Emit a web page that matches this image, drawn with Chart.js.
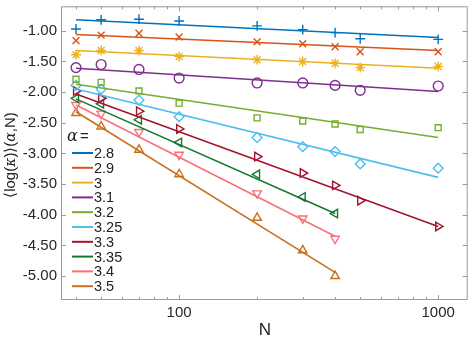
<!DOCTYPE html>
<html lang="en">
  <head>
    <meta charset="UTF-8" />
    <title>log kappa vs N</title>
    <script src="https://cdn.jsdelivr.net/npm/chart.js"></script>
    <style>
      html, body { margin: 0; padding: 0; background: #fff; }
      canvas { display: block; }
    </style>
  </head>
  <body>
    <canvas id="kappaChart" width="474" height="338"></canvas>

    <script>
      // system sizes on the x axis
      const N = [40, 50, 70, 100, 200, 300, 400, 500, 1000];

      const alphas = ["2.8", "2.9", "3", "3.1", "3.2", "3.25", "3.3", "3.35", "3.4", "3.5"];

      // measured <log(kappa)> per alpha (the last three stop at N = 400)
      const v28 = [-0.97, -0.82, -0.81, -0.84, -0.92, -0.98, -1.03, -1.13, -1.14];
      const v29 = [-1.16, -1.07, -1.04, -1.10, -1.18, -1.21, -1.26, -1.34, -1.34];
      const v30 = [-1.39, -1.32, -1.32, -1.42, -1.47, -1.50, -1.53, -1.60, -1.58];
      const v31 = [-1.60, -1.55, -1.63, -1.77, -1.85, -1.85, -1.89, -1.97, -1.90];
      const v32 = [-1.79, -1.84, -1.98, -2.18, -2.42, -2.47, -2.52, -2.61, -2.58];
      const v325 = [-1.89, -1.95, -2.13, -2.40, -2.74, -2.89, -2.97, -3.17, -3.24];
      const v33 = [-1.98, -2.10, -2.31, -2.60, -3.05, -3.32, -3.52, -3.77, -4.19];
      const v335 = [-2.10, -2.19, -2.45, -2.82, -3.34, -3.71, -3.98];
      const v34 = [-2.21, -2.35, -2.65, -3.02, -3.65, -4.06, -4.39];
      const v35 = [-2.34, -2.56, -2.94, -3.34, -4.05, -4.58, -5.00];
      const values = [v28, v29, v30, v31, v32, v325, v33, v335, v34, v35];

      // fitted lines: value at N = 40 and at the last N of each series
      const fitStart = [-0.82, -1.06, -1.32, -1.61, -1.87, -1.95, -2.03, -2.11, -2.21, -2.32];
      const fitEnd = [-1.11, -1.32, -1.61, -1.99, -2.74, -3.39, -4.19, -3.98, -4.35, -4.94];

      const yTicks = [-5.0, -4.5, -4.0, -3.5, -3.0, -2.5, -2.0, -1.5, -1.0];
      const xTicks = [100, 1000];
      const xMinor = [40, 50, 60, 70, 80, 90, 200, 300, 400, 500, 600, 700, 800, 900];

      const colors = [
        "#0072BD", "#D95319", "#EDB120", "#7E2F8E", "#77AC30",
        "#4DBEEE", "#A2142F", "#127A2E", "#F7707A", "#C8701E",
      ];
      const markers = ["cross", "crossRot", "star", "circle", "rect", "rectRot",
        "triangle", "triangle", "triangle", "triangle"];
      const rotations = [0, 0, 0, 0, 0, 0, 90, -90, 180, 0];

      const FONT = "'Liberation Sans', Arial, Helvetica, sans-serif";
      const SERIF = "'DejaVu Serif', 'Liberation Serif', serif";

      const datasets = [];
      values.forEach((vals, i) => {
        const xs = N.slice(0, vals.length);
        datasets.push({
          type: "line",
          label: alphas[i],
          data: [
            { x: xs[0], y: fitStart[i] },
            { x: xs[xs.length - 1], y: fitEnd[i] },
          ],
          borderColor: colors[i],
          borderWidth: 1.6,
          pointRadius: 0,
          fill: false,
        });
        datasets.push({
          type: "scatter",
          label: alphas[i] + " data",
          data: vals.map((y, j) => ({ x: xs[j], y: y })),
          borderColor: colors[i],
          backgroundColor: "rgba(0,0,0,0)",
          pointStyle: markers[i],
          rotation: rotations[i],
          pointRadius: markers[i] === "rect" ? 4.2 : 4.9,
          borderWidth: 1.4,
        });
      });

      // box, inward ticks, legend and axis titles, MATLAB style
      const decor = {
        id: "decor",
        afterDraw(chart) {
          const { ctx, chartArea: a, scales } = chart;
          const xs = scales.x, ys = scales.y;
          ctx.save();
          ctx.strokeStyle = "#9a9a9a";
          ctx.lineWidth = 1;
          ctx.strokeRect(a.left + 0.5, a.top + 0.5, a.right - a.left - 1, a.bottom - a.top - 1);

          ctx.beginPath();
          yTicks.forEach((t) => {
            const p = Math.round(ys.getPixelForValue(t)) + 0.5;
            ctx.moveTo(a.left, p); ctx.lineTo(a.left + 5, p);
            ctx.moveTo(a.right, p); ctx.lineTo(a.right - 5, p);
          });
          xTicks.forEach((t) => {
            const p = Math.round(xs.getPixelForValue(t)) + 0.5;
            ctx.moveTo(p, a.bottom); ctx.lineTo(p, a.bottom - 5);
            ctx.moveTo(p, a.top); ctx.lineTo(p, a.top + 5);
          });
          xMinor.forEach((t) => {
            const p = Math.round(xs.getPixelForValue(t)) + 0.5;
            ctx.moveTo(p, a.bottom); ctx.lineTo(p, a.bottom - 3);
            ctx.moveTo(p, a.top); ctx.lineTo(p, a.top + 3);
          });
          ctx.stroke();

          // legend
          ctx.fillStyle = "#222";
          ctx.textBaseline = "middle";
          ctx.textAlign = "left";
          ctx.font = "italic 16px " + SERIF;
          ctx.fillText("\u03b1", 67, 137);
          ctx.font = "15px " + FONT;
          ctx.fillText("=", 80, 137);
          ctx.font = "14.5px " + FONT;
          alphas.forEach((lab, i) => {
            const y = 153 + i * 14.8;
            ctx.strokeStyle = colors[i];
            ctx.lineWidth = 2;
            ctx.beginPath();
            ctx.moveTo(72, y); ctx.lineTo(93, y);
            ctx.stroke();
            ctx.fillStyle = "#222";
            ctx.fillText(lab, 94, y + 1);
          });

          // x title
          ctx.textAlign = "center";
          ctx.font = "17px " + FONT;
          ctx.fillText("N", 265, 330);

          // y title with italic greek letters
          const parts = [
            ["\u27e8log(", "15px " + FONT],
            ["\u03ba", "italic 14px " + SERIF],
            [")\u27e9(", "15px " + FONT],
            ["\u03b1", "italic 14px " + SERIF],
            [",N)", "15px " + FONT],
          ];
          let total = 0;
          parts.forEach((p) => { ctx.font = p[1]; total += ctx.measureText(p[0]).width; });
          ctx.translate(11, 155);
          ctx.rotate(-Math.PI / 2);
          ctx.textAlign = "left";
          let x = -total / 2;
          parts.forEach((p) => {
            ctx.font = p[1];
            ctx.fillText(p[0], x, 0);
            x += ctx.measureText(p[0]).width;
          });
          ctx.restore();
        },
      };

      const ctx = document.getElementById("kappaChart").getContext("2d");
      new Chart(ctx, {
        data: { datasets: datasets },
        options: {
          responsive: false,
          animation: false,
          devicePixelRatio: 1,
          layout: { padding: { top: 3, right: 5, left: 0, bottom: 0 } },
          plugins: { legend: { display: false }, tooltip: { enabled: false } },
          scales: {
            x: {
              type: "logarithmic",
              min: 35,
              max: 1300,
              afterBuildTicks: (s) => { s.ticks = xTicks.map((v) => ({ value: v })); },
              afterFit: (s) => { s.height = 38; s.paddingLeft = 0; s.paddingRight = 0; },
              grid: { display: false, drawTicks: false },
              border: { display: false },
              ticks: {
                color: "#262626",
                font: { family: FONT, size: 15 },
                padding: 4,
                maxRotation: 0,
                autoSkip: false,
                callback: (v) => String(v),
              },
            },
            y: {
              type: "linear",
              min: -5.39,
              max: -0.6,
              afterBuildTicks: (s) => { s.ticks = yTicks.map((v) => ({ value: v })); },
              afterFit: (s) => { s.width = 61; s.paddingTop = 0; s.paddingBottom = 0; },
              grid: { display: false, drawTicks: false },
              border: { display: false },
              ticks: {
                color: "#262626",
                font: { family: FONT, size: 15 },
                padding: 4,
                autoSkip: false,
                callback: (v) => v.toFixed(2),
              },
            },
          },
        },
        plugins: [decor],
      });
    </script>
  </body>
</html>
